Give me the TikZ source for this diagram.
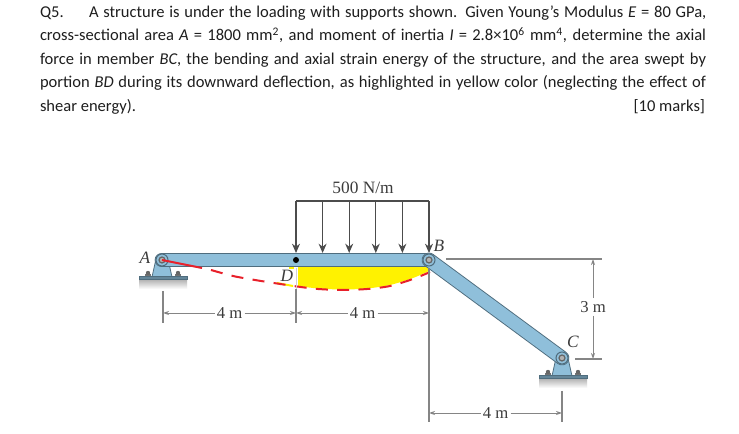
\documentclass[tikz,border=0pt]{standalone}
\usepackage{fontspec}
\setmainfont{Carlito}
\newfontfamily\figfont{Liberation Serif}
\usetikzlibrary{arrows.meta}
\definecolor{beamblue}{HTML}{8FBFDA}
\definecolor{beamedge}{HTML}{4F6D7E}
\definecolor{bodytext}{HTML}{1E1E1E}
\definecolor{figtext}{HTML}{3C3C3C}
\definecolor{dimline}{HTML}{858585}
\definecolor{highlight}{HTML}{FFF200}
\definecolor{defl}{HTML}{E8202A}
\newcommand{\jline}[2]{\makebox[#1][s]{#2}}
\newcommand{\fixedsupport}[2]{%
  \shade[top color=black!32,bottom color=white] (#1-23,#2+20) rectangle (#1+25,#2+30);
  \foreach \bx in {-14,16}{
    \fill[black!55] (#1+\bx-3,#2+18) rectangle (#1+\bx+3,#2+15);
    \fill[black!60] (#1+\bx,#2+14) circle[radius=2.2];
  }
  \draw[fill=beamblue,draw=beamedge,line width=.6pt] (#1-10,#2+18) -- (#1-6,#2) -- (#1+6,#2) -- (#1+10,#2+18) -- cycle;
  \draw[fill=beamblue!70!black,draw=beamedge,line width=.6pt] (#1-23,#2+17) rectangle (#1+25,#2+20);
}
\tikzset{
  x=0.75pt,y=-0.75pt,
  bodyline/.style={anchor=base west,inner sep=0pt,outer sep=0pt,text=bodytext,font=\fontsize{12.4}{14}\selectfont},
  figlabel/.style={inner sep=0pt,text=figtext,font=\figfont\fontsize{12.5}{14}\selectfont},
  figital/.style={inner sep=0pt,text=figtext,font=\figfont\itshape\fontsize{13}{15}\selectfont},
  memberedge/.style={line width=11pt,draw=beamedge,line cap=round},
  memberfill/.style={line width=9.6pt,draw=beamblue,line cap=round},
  pinnode/.style={circle,draw=beamedge,fill=beamblue,line width=.8pt,minimum size=9pt,inner sep=0pt},
  pincore/.style={circle,draw=black!60,fill=black!30,line width=.9pt,minimum size=4.5pt,inner sep=0pt},
  loadarrow/.style={draw=black!70,line width=.8pt,-{Stealth[length=7pt,width=6pt]}},
  loadtop/.style={draw=black!70,line width=.8pt},
  extline/.style={draw=dimline,line width=.8pt},
  dimarrow/.style={draw=dimline,line width=.7pt,-{Stealth[length=4.5pt,width=3pt]}},
  deflsolid/.style={draw=defl,line width=1.5pt},
  defldash/.style={draw=defl,line width=1.5pt,dash pattern=on 9pt off 7pt}
}
\begin{document}
\begin{tikzpicture}
\useasboundingbox (0,0) rectangle (739,434);
\fill[white] (0,0) rectangle (739,434);
% question text
\node[bodyline] (q) at (40,17.5) {Q5.};
\node[bodyline] (l1) at (89,17.5) {\jline{463pt}{A structure is under the loading with supports shown. Given Young’s Modulus \textit{E} = 80 GPa,}};
\node[bodyline] (l2) at (40,41) {\jline{499.5pt}{cross-sectional area \textit{A} = 1800 mm\textsuperscript{2}, and moment of inertia \textit{I} = 2.8×10\textsuperscript{6} mm\textsuperscript{4}, determine the axial}};
\node[bodyline] (l3) at (40,64.5) {\jline{499.5pt}{force in member \textit{BC}, the bending and axial strain energy of the structure, and the area swept by}};
\node[bodyline] (l4) at (40,88) {\jline{499.5pt}{portion \textit{BD} during its downward deflection, as highlighted in yellow color (neglecting the effect of}};
\node[bodyline] (l5) at (40,111.5) {shear energy).};
\node[bodyline,anchor=base east] (marks) at (705,111.5) {[10 marks]};
% key points
\coordinate (A) at (162,260);
\coordinate (B) at (429,260);
\coordinate (C) at (562,358);
% supports
\fixedsupport{162}{259}
\fixedsupport{562}{358}
% yellow area
\fill[highlight] (298,267) -- plot[smooth] coordinates {(298,286) (318,288.5) (343,289.5) (367,288.5) (390,285) (413,278) (429,271)} -- (429,267) -- cycle;
\fill[highlight] (289,267) rectangle (294,269);
\fill[highlight] (277,282) -- (293,285) -- (293,287) -- (277,284) -- cycle;
% members
\draw[memberedge] (A) -- (B);
\draw[memberfill] (A) -- (B);
\draw[memberedge] (B) -- (C);
\draw[memberfill] (B) -- (C);
\foreach \p in {A,B,C}{
  \node[pinnode] (pin\p) at (\p) {};
  \node[pincore] (core\p) at (\p) {};
}
\node[circle,fill=black,minimum size=4.5pt,inner sep=0pt] (D) at (296,260) {};
% deflected shape
\draw[deflsolid] (pinA.center) -- (202,268);
\draw[defldash] plot[smooth] coordinates {(211,270) (233,276) (255,280) (277,283.5) (297,286.5) (318,289) (343,290) (367,289) (390,286) (413,279) (430,272)};
% load
\foreach \n/\x in {0/296,1/322.6,2/349.2,3/375.8,4/402.4,5/429}{
  \coordinate (top\n) at (\x,201);
  \coordinate (tip\n) at (\x,253);
  \draw[loadarrow] (top\n) -- (tip\n);
}
\draw[loadtop] (top0) -- (top5);
\node[figlabel,font=\figfont\fontsize{13}{15}\selectfont] (load) at (363,188) {500 N/m};
% labels
\node[figital] (labA) at (145,258) {A};
\node[figital] (labB) at (439,246) {B};
\node[figital] (labC) at (573,342) {C};
\node[figital] (labD) at (287,276) {D};
% extension lines
\coordinate (e1a) at (163,291); \coordinate (e1b) at (163,323);
\coordinate (e2a) at (296,268); \coordinate (e2b) at (296,323);
\coordinate (e3a) at (429,268); \coordinate (e3b) at (429,422);
\coordinate (e4a) at (562,391); \coordinate (e4b) at (562,422);
\coordinate (e5a) at (446,259); \coordinate (e5b) at (602,259);
\coordinate (e6a) at (575,359); \coordinate (e6b) at (602,359);
\draw[extline] (e1a) -- (e1b);
\draw[draw=black!18,line width=.7pt] (e2a) -- (296,289);
\draw[extline] (296,289) -- (e2b);
\draw[extline] (e3a) -- (e3b);
\draw[extline] (e4a) -- (e4b);
\draw[extline] (e5a) -- (e5b);
\draw[extline] (e6a) -- (e6b);
% dimensions
\node[figlabel] (d1) at (229.5,313) {4 m};
\node[figlabel] (d2) at (362.5,313) {4 m};
\node[figlabel] (d3) at (495.5,413) {4 m};
\node[figlabel] (d4) at (593,307) {3 m};
\coordinate (d1l) at (163,313); \coordinate (d1r) at (296,313);
\coordinate (d2l) at (296,313); \coordinate (d2r) at (429,313);
\coordinate (d3l) at (429,413); \coordinate (d3r) at (562,413);
\coordinate (d4t) at (593,259); \coordinate (d4b) at (593,359);
\draw[dimarrow] (d1.west) ++(-2,0) -- (d1l);
\draw[dimarrow] (d1.east) ++(2,0) -- (d1r);
\draw[dimarrow] (d2.west) ++(-2,0) -- (d2l);
\draw[dimarrow] (d2.east) ++(2,0) -- (d2r);
\draw[dimarrow] (d3.west) ++(-2,0) -- (d3l);
\draw[dimarrow] (d3.east) ++(2,0) -- (d3r);
\draw[dimarrow] (d4.north) ++(0,-3) -- (d4t);
\draw[dimarrow] (d4.south) ++(0,3) -- (d4b);
\end{tikzpicture}
\end{document}
